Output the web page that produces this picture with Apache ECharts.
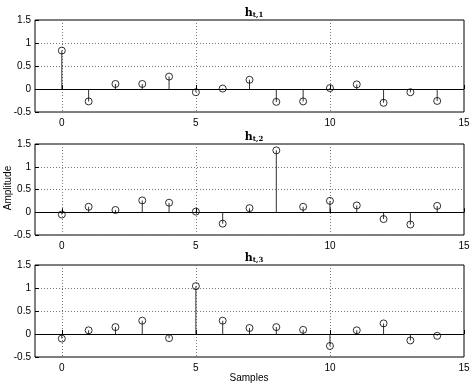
<!DOCTYPE html>
<html><head><meta charset="utf-8">
<script src="https://cdn.jsdelivr.net/npm/echarts@6/dist/echarts.min.js"></script>
<style>html,body{margin:0;padding:0;background:#fff}#c{width:474px;height:384px}</style>
</head><body><div id="c"></div>
<script>
const categories = ['-1','0','1','2','3','4','5','6','7','8','9','10','11','12','13','14','15'];
const h1 = [0.835, -0.27, 0.11, 0.11, 0.27, -0.07, 0.01, 0.2, -0.28, -0.27, 0.02, 0.1, -0.3, -0.07, -0.26];
const h2 = [-0.05, 0.12, 0.05, 0.26, 0.21, 0.015, -0.25, 0.09, 1.36, 0.12, 0.25, 0.15, -0.15, -0.27, 0.14];
const h3 = [-0.1, 0.08, 0.15, 0.29, -0.09, 1.04, 0.29, 0.13, 0.15, 0.09, -0.26, 0.08, 0.23, -0.14, -0.04];
const titles = ['t,1', 't,2', 't,3'];
const xName = 'Samples', yName = 'Amplitude';
const yMin = -0.5, yMax = 1.5, yStep = 0.5;

const chart = echarts.init(document.getElementById('c'));
const font = 'Liberation Sans, Arial, sans-serif';
const grids = [
  {left: 35, right: 10, top: 20, height: 92},
  {left: 35, right: 10, top: 144, height: 91},
  {left: 35, right: 10, top: 265, height: 92}
];
const all = [h1, h2, h3];
const pad = a => ['-'].concat(a).concat(['-']);
const showTick = (i, v) => Number(v) % 5 === 0 && Number(v) >= 0;

const option = {
  animation: false,
  backgroundColor: '#fff',
  title: grids.map((g, i) => ({
    text: '{h|h}{s|' + titles[i] + '}',
    left: 249, top: g.top - 17, textAlign: 'center',
    textStyle: {rich: {
      h: {fontFamily: 'DejaVu Serif, serif', fontWeight: 'bold', fontSize: 11, color: '#000'},
      s: {fontFamily: 'DejaVu Serif, serif', fontWeight: 'bold', fontSize: 7, color: '#000', verticalAlign: 'bottom', padding: [4,0,0,0]}
    }}
  })),
  graphic: [
    {type: 'text', x: 249, y: 378, style: {text: xName, fill: '#000', font: '10px ' + font, align: 'center', verticalAlign: 'middle'}},
    {type: 'text', x: 8, y: 188, rotation: Math.PI / 2, style: {text: yName, fill: '#000', font: '10px ' + font, align: 'center', verticalAlign: 'middle'}}
  ],
  grid: grids.map(g => Object.assign({show: true, borderColor: '#000', borderWidth: 1, backgroundColor: '#fff', containLabel: false, outerBoundsMode: 'none'}, g)),
  xAxis: grids.map((g, i) => ({
    type: 'category', gridIndex: i, data: categories, boundaryGap: false,
    axisLine: {show: false},
    axisTick: {show: true, inside: true, length: 4, interval: showTick, lineStyle: {color: '#000'}},
    axisLabel: {interval: showTick, color: '#000', fontFamily: font, fontSize: 10, margin: 6},
    splitLine: {show: true, interval: (idx, v) => ['0','5','10'].indexOf(v) >= 0, lineStyle: {type: [1, 2], color: '#777', width: 1}}
  })),
  yAxis: grids.map((g, i) => ({
    type: 'value', gridIndex: i, min: yMin, max: yMax, interval: yStep,
    axisLine: {show: false},
    axisTick: {show: true, inside: true, length: 4, lineStyle: {color: '#000'}},
    axisLabel: {color: '#000', fontFamily: font, fontSize: 10, margin: 4},
    splitLine: {show: true, lineStyle: {type: [1, 2], color: '#777', width: 1}}
  })),
  series: []
};
all.forEach((d, i) => {
  option.series.push({
    type: 'bar', xAxisIndex: i, yAxisIndex: i, data: pad(d), barWidth: 1,
    itemStyle: {color: '#333'}, z: 2,
    markLine: {silent: true, symbol: 'none', label: {show: false}, z: 5,
      lineStyle: {color: '#000', type: 'solid', width: 1}, data: [{yAxis: 0}]}
  });
  option.series.push({
    type: 'scatter', xAxisIndex: i, yAxisIndex: i, data: pad(d), symbol: 'circle', symbolSize: 7,
    itemStyle: {color: 'rgba(0,0,0,0)', borderColor: '#000', borderWidth: 1}, z: 3
  });
});
chart.setOption(option);
</script></body></html>
